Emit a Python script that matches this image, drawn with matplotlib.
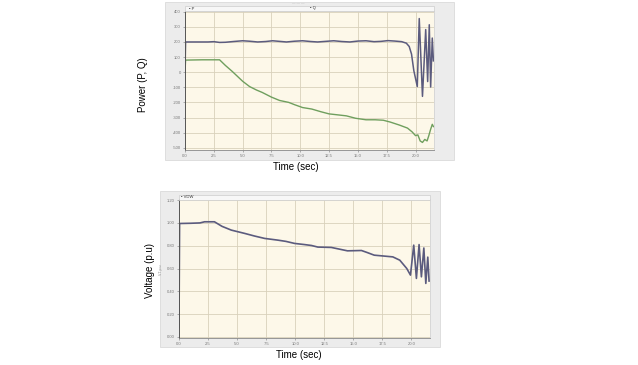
import matplotlib.pyplot as plt
from matplotlib.patches import Rectangle

# power chart (MW / MVar vs time)
p_time = [0.0, 0.05, 1.0, 2.0, 2.5, 3.0, 3.5, 4.2, 5.0, 5.6, 6.3, 7.0, 7.6, 8.2, 8.8,
          9.5, 10.2, 10.9, 11.5, 12.2, 12.9, 13.6, 14.3, 15.0, 15.7, 16.4, 17.0, 17.6,
          18.2, 18.8, 19.2, 19.45, 19.65, 19.85, 20.15, 20.32, 20.6, 20.88, 21.05,
          21.19, 21.31, 21.45, 21.55]
p_vals = [0, 200, 200, 200, 202, 197, 198, 203, 208, 205, 200, 203, 208, 204, 200,
          205, 208, 203, 200, 204, 208, 203, 200, 206, 208, 202, 204, 209,
          206, 202, 192, 170, 120, 10, -95, 355, -160, 282, -62,
          314, -98, 226, 75]
q_time = [0.0, 0.05, 1.5, 3.0, 3.5, 4.1, 5.0, 5.6, 6.2, 6.7, 7.5, 8.2, 9.0, 9.5, 10.2,
          11.0, 11.8, 12.5, 13.2, 14.0, 14.8, 15.7, 16.5, 17.2, 17.8, 18.6, 19.3, 19.7,
          20.0, 20.2, 20.4, 20.6, 20.8, 21.0, 21.15, 21.3, 21.45, 21.55]
q_vals = [0, 80, 82, 82, 45, 5, -60, -95, -118, -134, -165, -187, -200, -215, -234,
          -244, -262, -276, -282, -289, -305, -315, -315, -318, -330, -350, -370, -395,
          -420, -415, -455, -465, -445, -455, -420, -380, -345, -360]

# voltage chart (p.u vs time)
v_time = [0.0, 0.05, 1.0, 1.8, 2.2, 3.05, 3.7, 4.5, 5.65, 6.5, 7.37, 8.5, 9.2, 9.95, 10.8,
          11.4, 11.95, 13.1, 13.8, 14.5, 15.7, 16.2, 16.8, 18.4, 19.0, 19.6, 19.92, 20.2,
          20.43, 20.66, 20.86, 21.07, 21.24, 21.41, 21.52]
v_vals = [0.08, 0.995, 0.997, 1.0, 1.01, 1.01, 0.97, 0.937, 0.908, 0.885, 0.864, 0.849,
          0.838, 0.82, 0.81, 0.802, 0.788, 0.785, 0.77, 0.755, 0.758, 0.74, 0.717, 0.702,
          0.673, 0.60, 0.542, 0.805, 0.513, 0.81, 0.527, 0.78, 0.469, 0.70, 0.49]

x_ticks = [0.0, 2.5, 5.0, 7.5, 10.0, 12.5, 15.0, 17.5, 20.0]
p_ticks = [400, 300, 200, 100, 0, -100, -200, -300, -400, -500]
v_ticks = [1.20, 1.00, 0.80, 0.60, 0.40, 0.20, 0.00]

W, H = 638, 365
cream = "#fdf8e9"
panel = "#ececec"
grid_c = "#d9d1bb"
tick_c = "#777777"


def fx(px):
    return px / W


def fy(py):
    return 1 - py / H


def style_axes(ax, yticks, fmt):
    ax.set_zorder(1)
    ax.set_facecolor(cream)
    ax.set_xticks(x_ticks)
    ax.set_xticklabels([f"{t:.1f}" for t in x_ticks])
    ax.set_yticks(yticks)
    ax.set_yticklabels([fmt(v) for v in yticks])
    ax.tick_params(labelsize=3, colors=tick_c, length=1.5, width=0.4, pad=1.5)
    ax.grid(color=grid_c, linewidth=0.6)
    for side in ["top", "right"]:
        ax.spines[side].set_color("#cfcfcf")
        ax.spines[side].set_linewidth(0.5)
    ax.spines["left"].set_color("#555555")
    ax.spines["left"].set_linewidth(0.7)
    ax.spines["bottom"].set_color("#888888")
    ax.spines["bottom"].set_linewidth(0.6)


def add_rect(fig, x0, y0, x1, y1, face, edge, z):
    fig.patches.append(Rectangle((fx(x0), fy(y1)), fx(x1 - x0), (y1 - y0) / H,
                                 transform=fig.transFigure, facecolor=face,
                                 edgecolor=edge, linewidth=0.5, zorder=z))


def main() -> None:
    plt.rcParams["font.family"] = ["Liberation Sans", "DejaVu Sans"]
    fig = plt.figure(figsize=(W / 100, H / 100), dpi=100)
    fig.patch.set_facecolor("white")

    # top screenshot
    add_rect(fig, 165, 2, 454, 160, panel, "#d5d5d5", -1)
    ax1 = fig.add_axes([fx(185), fy(150), fx(434 - 185), 139 / H])
    style_axes(ax1, p_ticks, lambda v: f"{v:d}")
    ax1.plot(p_time, p_vals, color="#5b5b7e", linewidth=1.1)
    ax1.plot(q_time, q_vals, color="#6f9f5e", linewidth=1.0)
    ax1.set_xlim(0, 21.6)
    ax1.set_ylim(-515, 405)
    add_rect(fig, 185, 6, 434, 11, "#f7f7f7", "#cccccc", 2)
    fig.text(fx(189), fy(8.5), "\u25aa P", fontsize=3, color="#333333", va="center", zorder=3)
    fig.text(fx(310), fy(8.5), "\u25aa Q", fontsize=3, color="#333333", va="center", zorder=3)
    fig.text(fx(298), fy(3), "\u2014 \u2014 \u2014", fontsize=2.5, color="#bbbbbb",
             ha="center", va="center", zorder=3)
    fig.text(fx(143), fy(85), "Power (P, Q)", rotation=90, fontsize=7, ha="center", va="center")
    fig.text(fx(296), fy(167), "Time (sec)", fontsize=7, ha="center", va="center")

    # bottom screenshot
    add_rect(fig, 160, 191, 440, 347, panel, "#d5d5d5", -1)
    ax2 = fig.add_axes([fx(179), fy(338), fx(430 - 179), 139 / H])
    style_axes(ax2, v_ticks, lambda v: f"{v:.2f}")
    ax2.plot(v_time, v_vals, color="#5b5b7e", linewidth=1.2)
    ax2.set_xlim(0, 21.6)
    ax2.set_ylim(-0.01, 1.21)
    add_rect(fig, 179, 195, 430, 199.5, "#f7f7f7", "#cccccc", 2)
    fig.text(fx(181), fy(197.2), "\u25aa VDW", fontsize=3, color="#333333", va="center", zorder=3)
    fig.text(fx(150), fy(270), "Voltage (p.u)", rotation=90, fontsize=7, ha="center", va="center")
    fig.text(fx(161), fy(270), "VT p.u", rotation=90, fontsize=2.5, color="#888888",
             ha="center", va="center")
    fig.text(fx(299), fy(355), "Time (sec)", fontsize=7, ha="center", va="center")

    fig.savefig("out.png", dpi=100)
    plt.close(fig)


if __name__ == "__main__":
    main()
